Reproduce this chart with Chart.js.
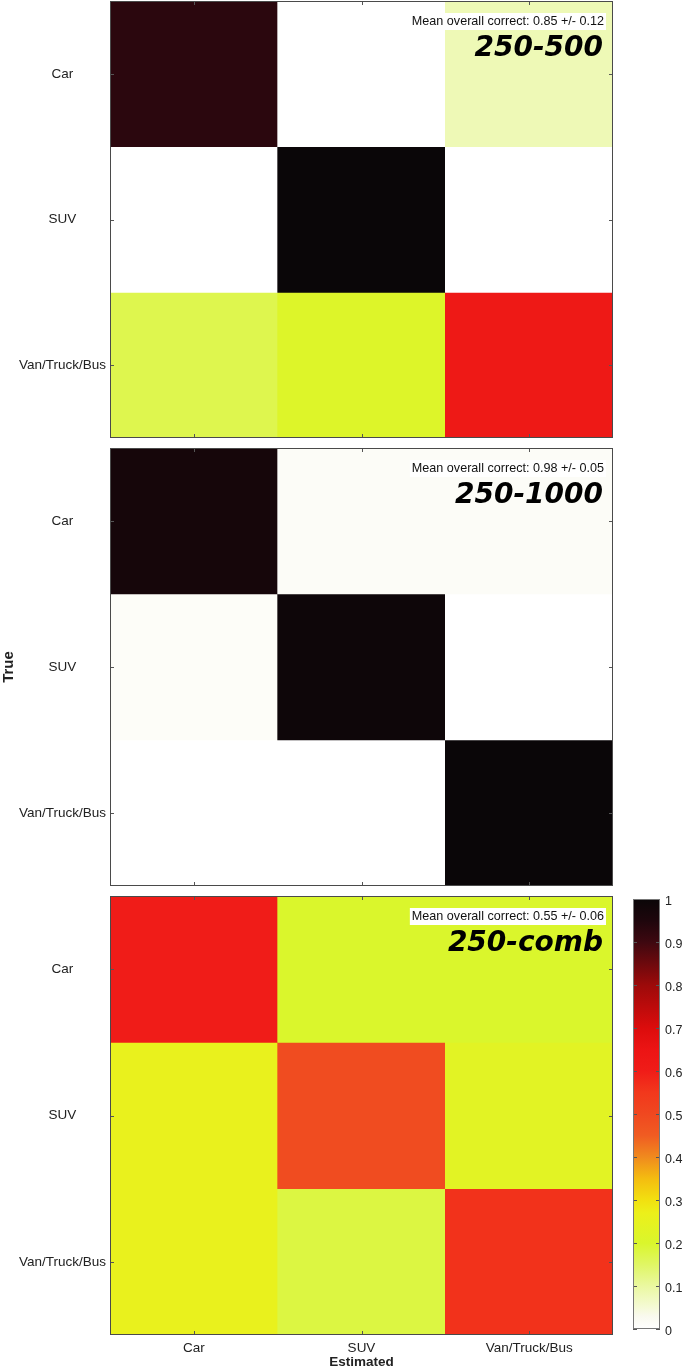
<!DOCTYPE html>
<html><head><meta charset="utf-8">
<script src="https://cdn.jsdelivr.net/npm/chart.js@4"></script>
<style>
html,body{margin:0;padding:0;background:#fff;}
body{width:685px;height:1370px;position:relative;overflow:hidden;}
canvas{position:absolute;}
</style></head>
<body>
<canvas id="p1" width="685" height="440" style="left:0;top:0"></canvas>
<canvas id="p2" width="685" height="448" style="left:0;top:440px"></canvas>
<canvas id="p3" width="685" height="482" style="left:0;top:888px"></canvas>
<canvas id="cb" width="85" height="482" style="left:600px;top:888px"></canvas>
<script>
// ---- data ----
const estimatedLabels = ['Car', 'SUV', 'Van/Truck/Bus'];
const trueLabels = ['Car', 'SUV', 'Van/Truck/Bus'];
const panelNames = ['250-500', '250-1000', '250-comb'];
const meanCorrect = ['0.85 +/- 0.12', '0.98 +/- 0.05', '0.55 +/- 0.06'];
const conf500 = [[0.93, 0.00, 0.08], [0.00, 1.00, 0.00], [0.17, 0.21, 0.62]];
const conf1000 = [[0.97, 0.015, 0.015], [0.012, 0.99, 0.00], [0.00, 0.00, 1.00]];
const confComb = [[0.60, 0.20, 0.20], [0.26, 0.49, 0.23], [0.26, 0.18, 0.56]];
const colorbarTicks = [0, 0.1, 0.2, 0.3, 0.4, 0.5, 0.6, 0.7, 0.8, 0.9, 1];

// ---- colormap (style) ----
const cmapStops = [
  [0.00, [255,255,255]], [0.03, [249,249,238]], [0.05, [245,250,214]], [0.10, [234,248,160]], [0.15, [224,246,100]],
  [0.20, [218,246,44]], [0.27, [236,240,26]], [0.30, [242,224,16]], [0.35, [244,188,16]],
  [0.40, [240,138,30]], [0.45, [240,92,34]], [0.50, [240,72,32]], [0.55, [242,56,28]],
  [0.60, [240,28,24]], [0.65, [236,20,20]], [0.70, [220,12,12]], [0.80, [156,10,10]],
  [0.90, [62,8,16]], [0.95, [30,6,12]], [1.00, [10,6,8]]
];
function cmap(v) {
  v = Math.max(0, Math.min(1, v));
  for (let i = 1; i < cmapStops.length; i++) {
    const [b, cb] = cmapStops[i], [a, ca] = cmapStops[i-1];
    if (v <= b) {
      const t = (v - a) / (b - a);
      const c = ca.map((x, k) => Math.round(x + (cb[k] - x) * t));
      return 'rgb(' + c.join(',') + ')';
    }
  }
  return 'rgb(10,6,8)';
}

const FONT = '"Liberation Sans", Arial, sans-serif';
Chart.defaults.font.family = FONT;
Chart.defaults.font.size = 13.5;
Chart.defaults.color = '#222';
Chart.defaults.animation = false;

function panelPlugin(idx) {
  return {
    id: 'panel' + idx,
    afterDraw(chart) {
      const ctx = chart.ctx, a = chart.chartArea;
      const xs = chart.scales.x, ys = chart.scales.y;
      ctx.save();
      // inner ticks
      ctx.strokeStyle = '#555'; ctx.lineWidth = 1;
      ctx.beginPath();
      estimatedLabels.forEach((l, i) => {
        const x = Math.round(xs.getPixelForValue(i)) + 0.5;
        ctx.moveTo(x, a.bottom); ctx.lineTo(x, a.bottom - 4);
        ctx.moveTo(x, a.top); ctx.lineTo(x, a.top + 4);
      });
      trueLabels.forEach((l, i) => {
        const y = Math.round(ys.getPixelForValue(i + 0.5)) + 0.5;
        ctx.moveTo(a.left, y); ctx.lineTo(a.left + 4, y);
        ctx.moveTo(a.right, y); ctx.lineTo(a.right - 4, y);
      });
      ctx.stroke();
      // frame
      ctx.strokeStyle = '#4a4a4a';
      ctx.strokeRect(Math.round(a.left) + 0.5, Math.round(a.top) + 0.5, Math.round(a.right - a.left) - 1, Math.round(a.bottom - a.top) - 1);
      // mean text with white box
      const txt = 'Mean overall correct: ' + meanCorrect[idx];
      ctx.font = '12.6px ' + FONT;
      const w = ctx.measureText(txt).width;
      const rx = a.right - 9;
      ctx.fillStyle = '#fff';
      ctx.fillRect(rx - w - 2, a.top + 12, w + 4, 17);
      ctx.fillStyle = '#111';
      ctx.textAlign = 'right'; ctx.textBaseline = 'middle';
      ctx.fillText(txt, rx, a.top + 21);
      // big name
      ctx.font = 'italic bold 28px "DejaVu Sans", sans-serif';
      ctx.textBaseline = 'alphabetic';
      ctx.fillStyle = '#000';
      ctx.fillText(panelNames[idx], a.right - 10, a.top + 55);
      ctx.restore();
    }
  };
}

function makePanel(id, idx, matrix, opts) {
  const datasets = matrix.map((row, r) => ({
    label: trueLabels[r],
    data: row.map(() => [r, r + 1]),
    backgroundColor: row.map(v => cmap(v)),
    borderWidth: 0,
    barPercentage: 1,
    categoryPercentage: 1,
    grouped: false
  }));
  new Chart(document.getElementById(id), {
    type: 'bar',
    data: { labels: estimatedLabels, datasets },
    options: {
      responsive: false,
      layout: { padding: { left: 0, right: 72, top: opts.padTop, bottom: opts.padBottom } },
      plugins: { legend: { display: false }, tooltip: { enabled: false } },
      scales: {
        x: {
          type: 'category',
          grid: { display: false, drawTicks: false },
          border: { display: false },
          ticks: { display: opts.showX, padding: 5, color: '#222', font: { size: 13.5 } },
          title: { display: opts.showX, text: 'Estimated', font: { size: 13.5, weight: 'bold' }, color: '#222', padding: { top: 0, bottom: 0 } },
          afterFit(s) { s.height = opts.xHeight; s.paddingLeft = 0; s.paddingRight = 0; }
        },
        y: {
          type: 'linear', min: 0, max: 3, reverse: true,
          grid: { display: false, drawTicks: false },
          border: { display: false },
          afterBuildTicks(s) { s.ticks = trueLabels.map((l, i) => ({ value: i + 0.5 })); },
          ticks: { padding: 4, crossAlign: 'center', color: '#222', font: { size: 13.5 }, callback: (v) => trueLabels[Math.floor(v)] },
          title: { display: opts.showY, text: 'True', font: { size: 15, weight: 'bold' }, color: '#222', padding: { top: 0, bottom: 0 } },
          afterFit(s) { s.width = 110; s.paddingTop = 0; s.paddingBottom = 0; }
        }
      }
    },
    plugins: [panelPlugin(idx)]
  });
}

makePanel('p1', 0, conf500, { padTop: 1, padBottom: 2, showX: false, showY: false, xHeight: 0 });
makePanel('p2', 1, conf1000, { padTop: 8, padBottom: 2, showX: false, showY: true, xHeight: 0 });
makePanel('p3', 2, confComb, { padTop: 8, padBottom: 0, showX: true, showY: false, xHeight: 35 });

// ---- colorbar ----
new Chart(document.getElementById('cb'), {
  type: 'bar',
  data: { labels: [''], datasets: [] },
  options: {
    responsive: false,
    layout: { padding: { left: 33, right: 0, top: 11, bottom: 41 } },
    plugins: { legend: { display: false }, tooltip: { enabled: false } },
    scales: {
      x: { display: false },
      y: {
        position: 'right', min: 0, max: 1,
        grid: { display: false, drawTicks: false },
        border: { display: false },
        afterBuildTicks(s) { s.ticks = colorbarTicks.map(v => ({ value: v })); },
        ticks: { padding: 5, labelOffset: 3, color: '#222', font: { size: 12.5 }, callback: (v) => (v === 0 || v === 1) ? String(v) : v.toFixed(1) },
        afterFit(s) { s.width = 25; s.paddingTop = 0; s.paddingBottom = 0; }
      }
    }
  },
  plugins: [{
    id: 'cbar',
    beforeDatasetsDraw(chart) {
      const ctx = chart.ctx, a = chart.chartArea, ys = chart.scales.y;
      const g = ctx.createLinearGradient(0, ys.getPixelForValue(0), 0, ys.getPixelForValue(1));
      cmapStops.forEach(([v]) => g.addColorStop(v, cmap(v)));
      ctx.save();
      ctx.fillStyle = g;
      ctx.fillRect(a.left, a.top, a.right - a.left, a.bottom - a.top);
      ctx.strokeStyle = '#555'; ctx.lineWidth = 1;
      ctx.beginPath();
      colorbarTicks.forEach(v => {
        const y = Math.round(ys.getPixelForValue(v)) + 0.5;
        ctx.moveTo(a.left, y); ctx.lineTo(a.left + 4, y);
        ctx.moveTo(a.right, y); ctx.lineTo(a.right - 4, y);
      });
      ctx.stroke();
      ctx.strokeStyle = '#777';
      ctx.strokeRect(Math.round(a.left) + 0.5, Math.round(a.top) + 0.5, Math.round(a.right - a.left) - 1, Math.round(a.bottom - a.top) - 1);
      ctx.restore();
    }
  }]
});
</script>
</body></html>
